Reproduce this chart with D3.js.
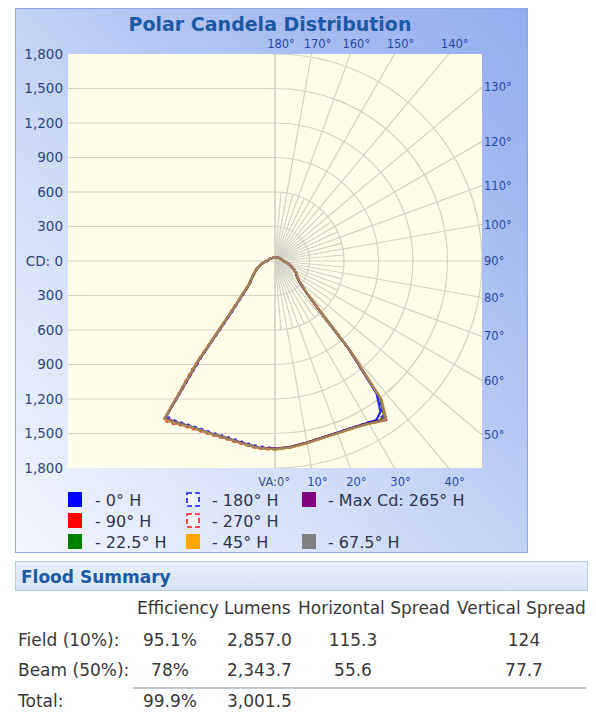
<!DOCTYPE html>
<html>
<head>
<meta charset="utf-8">
<script src="https://cdn.jsdelivr.net/npm/d3@7.9.0/dist/d3.min.js"></script>
<style>
  body { margin: 0; background: #fff; }
  svg { display: block; font-family: "DejaVu Sans", Verdana, sans-serif; }
</style>
</head>
<body>
<svg id="chart" width="596" height="713"></svg>
<script>
// vertical angles (deg) of the photometric readings
const vAngles = [0, 5, 10, 15, 20, 25, 30, 32.5, 35, 37.5, 40, 42.5, 45, 47.5, 50, 55, 60, 65, 70, 75, 80, 85, 90, 120, 150, 180];

// candela per horizontal plane: "Right" = plane H, "Left" = plane H+180
const h0Right    = [1635, 1622, 1604, 1590, 1588, 1598, 1622, 1640, 1600, 1450, 990, 520, 380, 318, 272, 232, 212, 182, 158, 134, 110, 90, 72, 48, 34, 26];
const h0Left     = [1632, 1628, 1608, 1596, 1598, 1608, 1632, 1652, 1660, 1080, 625, 462, 365, 305, 276, 238, 203, 178, 153, 129, 107, 87, 69, 45, 32, 26];
const h90Right   = [1634, 1620, 1603, 1589, 1590, 1600, 1628, 1654, 1660, 1505, 1000, 528, 383, 320, 274, 234, 214, 183, 159, 134, 110, 90, 72, 48, 34, 26];
const h90Left    = [1633, 1629, 1609, 1597, 1599, 1609, 1634, 1654, 1664, 1095, 632, 466, 370, 308, 278, 239, 204, 179, 154, 130, 107, 87, 69, 45, 32, 26];
const h22Right   = [1638, 1625, 1606, 1592, 1592, 1602, 1630, 1656, 1665, 1500, 1005, 530, 385, 322, 276, 236, 215, 185, 160, 135, 111, 91, 73, 49, 35, 26];
const h22Left    = [1636, 1631, 1611, 1599, 1601, 1611, 1637, 1660, 1672, 1120, 648, 476, 378, 314, 282, 242, 207, 181, 156, 131, 108, 88, 70, 45, 32, 26];
const h45Right   = [1640, 1628, 1610, 1596, 1596, 1606, 1634, 1662, 1680, 1525, 1020, 540, 390, 325, 278, 238, 218, 186, 161, 136, 112, 92, 74, 50, 35, 26];
const h45Left    = [1638, 1633, 1613, 1600, 1603, 1613, 1640, 1664, 1678, 1130, 655, 480, 382, 316, 284, 244, 208, 182, 157, 132, 109, 89, 71, 46, 33, 26];
const h67Right   = [1636, 1624, 1607, 1593, 1593, 1603, 1632, 1660, 1672, 1510, 1012, 535, 388, 323, 276, 236, 216, 185, 160, 135, 111, 91, 73, 49, 34, 26];
const h67Left    = [1635, 1630, 1610, 1598, 1600, 1610, 1635, 1656, 1668, 1105, 640, 470, 374, 311, 280, 240, 205, 180, 155, 130, 108, 88, 70, 45, 32, 26];
const h180Right  = [1633, 1621, 1603, 1589, 1588, 1597, 1620, 1645, 1640, 1480, 980, 515, 378, 316, 270, 232, 212, 182, 158, 134, 110, 90, 72, 48, 34, 26];
const h180Left   = [1626, 1618, 1598, 1585, 1588, 1598, 1622, 1640, 1645, 1025, 592, 440, 352, 297, 270, 234, 200, 176, 151, 128, 106, 86, 68, 45, 32, 26];
const h270Right  = [1637, 1624, 1606, 1592, 1591, 1601, 1629, 1655, 1664, 1512, 1015, 536, 387, 322, 275, 235, 215, 184, 159, 135, 111, 91, 73, 49, 34, 26];
const h270Left   = [1643, 1640, 1620, 1608, 1612, 1622, 1650, 1676, 1695, 1185, 690, 500, 394, 325, 290, 248, 212, 186, 160, 134, 111, 90, 71, 46, 33, 26];
const maxRight   = [1636, 1626, 1608, 1594, 1594, 1605, 1632, 1660, 1690, 1520, 1015, 536, 386, 321, 275, 235, 215, 184, 160, 135, 111, 91, 73, 49, 35, 26];
const maxLeft    = [1634, 1631, 1612, 1600, 1603, 1614, 1641, 1666, 1676, 1125, 652, 478, 385, 318, 285, 245, 209, 183, 158, 133, 110, 90, 71, 46, 33, 26];

// axis ticks
const cdTicks = [-1800, -1500, -1200, -900, -600, -300, 0, 300, 600, 900, 1200, 1500, 1800];
const ringValues = [300, 600, 900, 1200, 1500, 1800];
const vaTicks = [0, 10, 20, 30, 40, 50, 60, 70, 80, 90, 100, 110, 120, 130, 140, 150, 160, 170, 180];

// legend
const legendLabels = ["- 0° H", "- 90° H", "- 22.5° H", "- 180° H", "- 270° H", "- 45° H", "- Max Cd: 265° H", "- 67.5° H"];
const legendCols = [0, 0, 0, 1, 1, 1, 2, 2];
const legendRows = [0, 1, 2, 0, 1, 2, 0, 2];

// flood summary table
const summaryHeaders = ["Efficiency", "Lumens", "Horizontal Spread", "Vertical Spread"];
const rowLabels = ["Field (10%):", "Beam (50%):", "Total:"];
const efficiency = [95.1, 78, 99.9];
const lumens = [2857.0, 2343.7, 3001.5];
const hSpread = [115.3, 55.6, null];
const vSpread = [124, 77.7, null];

// series styles, paired with the arrays above (draw order = list order)
const series = [
  { key: "180", right: h180Right, left: h180Left, color: "#1a1aff", dash: "3,4", width: 2 },
  { key: "270", right: h270Right, left: h270Left, color: "#ff1a1a", dash: "3,4", width: 2 },
  { key: "0", right: h0Right, left: h0Left, color: "#0000ff" },
  { key: "90", right: h90Right, left: h90Left, color: "#ff0000" },
  { key: "22.5", right: h22Right, left: h22Left, color: "#008000" },
  { key: "max", right: maxRight, left: maxLeft, color: "#800080" },
  { key: "45", right: h45Right, left: h45Left, color: "#ffa500" },
  { key: "67.5", right: h67Right, left: h67Left, color: "#808080", opacity: 0.75 }
];
const legendSwatch = [
  { color: "#0000ff" }, { color: "#ff0000" }, { color: "#008000" },
  { color: "#1a1aff", dash: true }, { color: "#ff1a1a", dash: true }, { color: "#ffa500" },
  { color: "#800080" }, { color: "#808080" }
];

const svg = d3.select("#chart");
const defs = svg.append("defs");

// geometry
const cx = 275, cy = 261, R = 207;
const plot = { x: cx - R, y: cy - R, w: 2 * R, h: 2 * R };
const rScale = d3.scaleLinear().domain([0, 1800]).range([0, R]);
const yScale = d3.scaleLinear().domain([1800, -1800]).range([cy - R, cy + R]);

// panel background
const pg = defs.append("linearGradient").attr("id", "panelGrad")
  .attr("x1", 0).attr("y1", 1).attr("x2", 1).attr("y2", 0);
pg.append("stop").attr("offset", 0).attr("stop-color", "#f3f6fd");
pg.append("stop").attr("offset", 0.35).attr("stop-color", "#d3def7");
pg.append("stop").attr("offset", 0.6).attr("stop-color", "#b6c7f3");
pg.append("stop").attr("offset", 1).attr("stop-color", "#94acef");

svg.append("rect")
  .attr("x", 15.5).attr("y", 8.5).attr("width", 512).attr("height", 544)
  .attr("fill", "url(#panelGrad)").attr("stroke", "#8fa7e4");

svg.append("text")
  .attr("x", 270).attr("y", 31).attr("text-anchor", "middle")
  .attr("font-size", 19).attr("font-weight", "bold").attr("fill", "#1d5aa5")
  .text("Polar Candela Distribution");

// plot area
defs.append("clipPath").attr("id", "plotClip")
  .append("rect").attr("x", plot.x).attr("y", plot.y).attr("width", plot.w).attr("height", plot.h);

svg.append("rect")
  .attr("x", plot.x).attr("y", plot.y).attr("width", plot.w).attr("height", plot.h)
  .attr("fill", "#fffeea");

const grid = svg.append("g").attr("clip-path", "url(#plotClip)")
  .attr("stroke", "#d2d2c8").attr("stroke-width", 1.2).attr("fill", "none");

// horizontal lines on the left half
grid.selectAll(".hline")
  .data(cdTicks.filter(v => Math.abs(v) < 1800))
  .join("line")
  .attr("x1", plot.x).attr("x2", cx)
  .attr("y1", d => yScale(d)).attr("y2", d => yScale(d));

// centre vertical line
grid.append("line").attr("x1", cx).attr("x2", cx).attr("y1", plot.y).attr("y2", plot.y + plot.h);

// half rings on the right
grid.selectAll(".ring")
  .data(ringValues)
  .join("path")
  .attr("d", d => {
    const p = d3.path();
    p.arc(cx, cy, rScale(d), -Math.PI / 2, Math.PI / 2);
    return p.toString();
  });

// radial lines: vertical angle 0 points down, 90 to the right
const dirX = a => Math.sin(a * Math.PI / 180);
const dirY = a => Math.cos(a * Math.PI / 180);
grid.selectAll(".spoke")
  .data(vaTicks)
  .join("line")
  .attr("x1", cx).attr("y1", cy)
  .attr("x2", d => cx + 400 * dirX(d)).attr("y2", d => cy + 400 * dirY(d));
grid.selectAll(".minor")
  .data(vaTicks.slice(0, -1).map(d => d + 5))
  .join("line")
  .attr("x1", cx).attr("y1", cy)
  .attr("x2", d => cx + rScale(600) * dirX(d)).attr("y2", d => cy + rScale(600) * dirY(d));

// left CD axis
const yAxis = d3.axisLeft(yScale)
  .tickValues(cdTicks)
  .tickSize(0).tickPadding(5)
  .tickFormat(d => d === 0 ? "CD: 0" : d3.format(",")(Math.abs(d)));
const yg = svg.append("g").attr("transform", `translate(${plot.x},0)`).call(yAxis);
yg.select(".domain").remove();
yg.selectAll("text").attr("font-family", "DejaVu Sans").attr("font-size", 13.5).attr("fill", "#33457a");

// vertical angle labels around the edge
const vaGroup = svg.append("g").attr("font-size", 11.5).attr("fill", "#2a4aa5");
vaTicks.forEach(a => {
  if (a <= 40) {
    const x = cx + R * Math.tan(a * Math.PI / 180);
    vaGroup.append("text")
      .attr("x", a === 0 ? x + 15 : x + 6).attr("y", plot.y + plot.h + 18)
      .attr("text-anchor", a === 0 ? "end" : "middle")
      .attr("fill", a === 0 ? "#3a4f8a" : null)
      .text(a === 0 ? "VA:0°" : a + "°");
  } else if (a < 140) {
    const y = cy + R * dirY(a) / dirX(a);
    vaGroup.append("text")
      .attr("x", plot.x + plot.w + 2).attr("y", y).attr("dy", "0.35em")
      .text(a + "°");
  } else {
    const x = cx + R * dirX(a) / -dirY(a);
    vaGroup.append("text")
      .attr("x", x + 6).attr("y", plot.y - 6).attr("text-anchor", "middle")
      .text(a + "°");
  }
});

// candela curves
const radial = d3.lineRadial()
  .angle(d => d.a)
  .radius(d => rScale(d.cd));

function seriesPoints(s) {
  const left = vAngles.map((v, i) => ({ a: Math.PI + v * Math.PI / 180, cd: s.left[i] })).reverse();
  const right = vAngles.map((v, i) => ({ a: Math.PI - v * Math.PI / 180, cd: s.right[i] }));
  return left.concat(right);
}

svg.append("g")
  .attr("transform", `translate(${cx},${cy})`)
  .selectAll("path")
  .data(series)
  .join("path")
  .attr("d", d => radial(seriesPoints(d)))
  .attr("fill", "none")
  .attr("stroke", d => d.color)
  .attr("stroke-width", d => d.width || 2.2)
  .attr("stroke-opacity", d => d.opacity || 0.85)
  .attr("stroke-dasharray", d => d.dash || null)
  .attr("stroke-linejoin", "round");

// legend
const colX = [68, 186, 302];
const rowY = [500, 521, 542];
const lg = svg.append("g");
legendLabels.forEach((lab, i) => {
  const x = colX[legendCols[i]], y = rowY[legendRows[i]];
  const sw = legendSwatch[i];
  if (sw.dash) {
    lg.append("rect").attr("x", x + 1).attr("y", y - 7).attr("width", 12).attr("height", 13)
      .attr("fill", "#ffffff").attr("fill-opacity", 0.5)
      .attr("stroke", sw.color).attr("stroke-width", 1.6).attr("stroke-dasharray", "5,3");
  } else {
    lg.append("rect").attr("x", x).attr("y", y - 8).attr("width", 14).attr("height", 15)
      .attr("fill", sw.color);
  }
  lg.append("text")
    .attr("x", x + (legendCols[i] === 0 ? 27 : 26)).attr("y", y).attr("dy", "0.36em")
    .attr("font-size", 16).attr("fill", "#2e3450")
    .text(lab);
});

// flood summary
const hg = defs.append("linearGradient").attr("id", "headGrad")
  .attr("x1", 0).attr("y1", 0).attr("x2", 0).attr("y2", 1);
hg.append("stop").attr("offset", 0).attr("stop-color", "#e8effb");
hg.append("stop").attr("offset", 1).attr("stop-color", "#d8e3f6");
svg.append("rect")
  .attr("x", 15.5).attr("y", 561.5).attr("width", 572).attr("height", 29)
  .attr("fill", "url(#headGrad)").attr("stroke", "#b9cbea");
svg.append("text")
  .attr("x", 21).attr("y", 583)
  .attr("font-size", 17).attr("font-weight", "bold").attr("fill", "#1d5aa5")
  .text("Flood Summary");

const tg = svg.append("g").attr("font-size", 17).attr("fill", "#383838");
const headX = [137, 224, 298, 457];
summaryHeaders.forEach((h, i) => {
  tg.append("text").attr("x", headX[i]).attr("y", 614).text(h);
});
const rowBase = [646, 676, 707];
rowLabels.forEach((lab, r) => {
  const y = rowBase[r];
  tg.append("text").attr("x", 18).attr("y", y).text(lab);
  tg.append("text").attr("x", 170).attr("y", y).attr("text-anchor", "middle").text(efficiency[r] + "%");
  tg.append("text").attr("x", 227).attr("y", y).text(d3.format(",.1f")(lumens[r]));
  if (hSpread[r] !== null) tg.append("text").attr("x", 353).attr("y", y).attr("text-anchor", "middle").text(hSpread[r]);
  if (vSpread[r] !== null) tg.append("text").attr("x", 524).attr("y", y).attr("text-anchor", "middle").text(vSpread[r]);
});
svg.append("line")
  .attr("x1", 133).attr("x2", 586).attr("y1", 688).attr("y2", 688)
  .attr("stroke", "#b0b4bc").attr("stroke-width", 1.5);
</script>
</body>
</html>
